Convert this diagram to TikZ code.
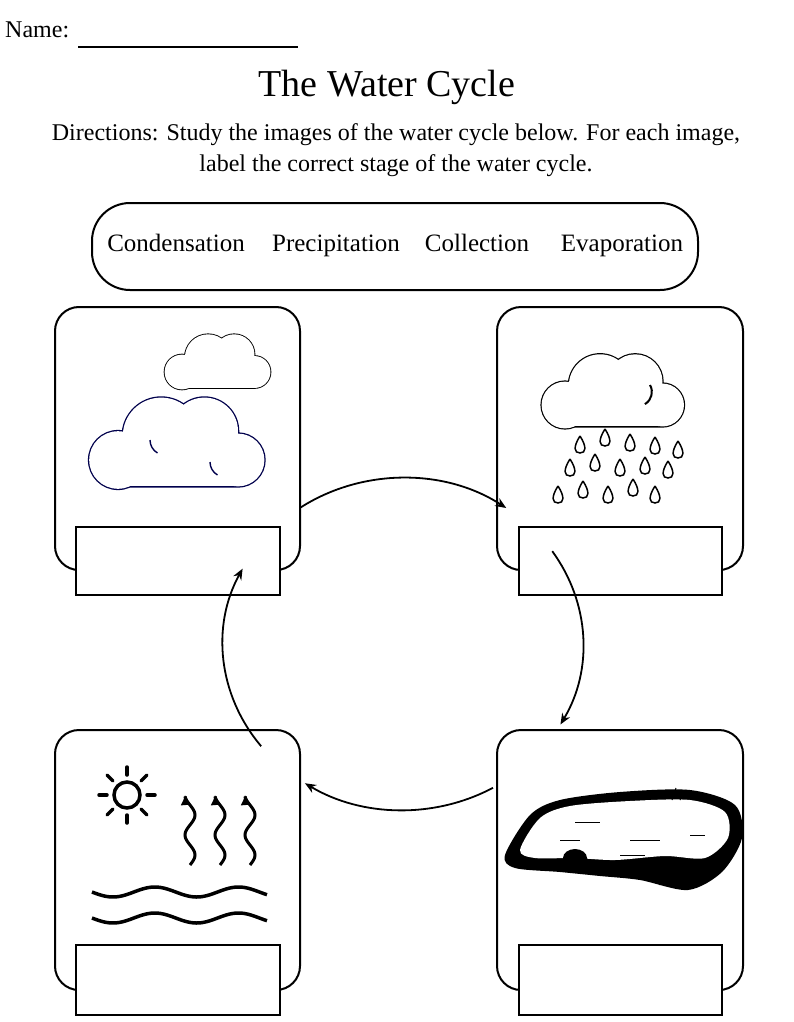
\documentclass[tikz,border=0pt]{standalone}
\usepackage{fontspec}
\setmainfont{Liberation Serif}
\usetikzlibrary{arrows.meta}
\tikzset{
 panel/.style={draw,line width=2pt,rounded corners=24pt},
 lbl/.style={draw,line width=2pt},
 cyc/.style={line width=1.8pt,-{Stealth[length=11pt,width=9pt]}},
 word/.style={anchor=base,font=\fontsize{25}{30}\selectfont},
 pics/cloud/.style={code={
  \draw[line width=#1] (0,0) circle (12) (18,-10) circle (16) (36,-12) circle (14) (50,0) circle (11) (0,-2) rectangle (50,11);
  \fill[white] (0,0) circle (12);
  \fill[white] (18,-10) circle (16);
  \fill[white] (36,-12) circle (14);
  \fill[white] (50,0) circle (11);
  \fill[white] (0,-2) rectangle (50,11);
 }},
 pics/drop/.style={code={
  \draw[line width=1.5pt] (0,-11) .. controls (-7,0) and (-6,6) .. (0,6) .. controls (6,6) and (7,0) .. (0,-11);
 }}
}
\begin{document}
\begin{tikzpicture}[x=1pt,y=-1pt]
\useasboundingbox (0,0) rectangle (794,1022);
% header
\node[anchor=base west,font=\fontsize{24}{28}\selectfont,inner sep=0pt] (name) at (5,38) {Name:};
\draw[line width=1.5pt] (78,47) -- (298,47);
\node[font=\fontsize{38}{44}\selectfont] (title) at (387,87) {The Water Cycle};
\node[font=\fontsize{24}{31}\selectfont,align=center] (dir) at (396,150) {Directions: Study the images of the water cycle below. For each image,\\label the correct stage of the water cycle.};
% word bank
\draw[line width=2pt,rounded corners=38pt] (92,203) rectangle (698,290);
\node[word] (w1) at (176,251) {Condensation};
\node[word] (w2) at (336,251) {Precipitation};
\node[word] (w3) at (477,251) {Collection};
\node[word] (w4) at (622,251) {Evaporation};
% panels
\draw[panel] (55,307) rectangle (300,570);
\draw[panel] (497,307) rectangle (743,570);
\draw[panel] (55,730) rectangle (300,990);
\draw[panel] (497,730) rectangle (743,990);
\draw[lbl,fill=white] (76,527) rectangle (280,595);
\draw[lbl,fill=white] (519,527) rectangle (722,595);
\draw[lbl,fill=white] (76,945) rectangle (280,1015);
\draw[lbl,fill=white] (519,945) rectangle (722,1015);
% cycle arrows
\coordinate (c) at (403,644);
\draw[cyc] (c) ++(124.6:180pt and 166pt) arc[start angle=124.6,end angle=55,x radius=180pt,y radius=166pt];
\draw[cyc] (c) ++(34:180pt and 166pt) arc[start angle=34,end angle=-29,x radius=180pt,y radius=166pt];
\draw[cyc] (c) ++(-60:180pt and 166pt) arc[start angle=-60,end angle=-123,x radius=180pt,y radius=166pt];
\draw[cyc] (c) ++(218:180pt and 166pt) arc[start angle=218,end angle=153,x radius=180pt,y radius=166pt];
% condensation clouds
\pic[scale=1.45] at (182,372) {cloud=1.8pt};
\pic[scale=2.4,draw=blue!30!black] at (118,460) {cloud=2.6pt};
\draw[blue!30!black,line width=1.4pt] (150,440) arc[start angle=180,end angle=120,radius=15] (210,462) arc[start angle=180,end angle=120,radius=15];
% precipitation
\pic[scale=1.95] at (565,405) {cloud=2.4pt};
\draw[line width=2pt] (650,385) arc[start angle=-30,end angle=60,radius=14];
\foreach \p in {(580,447),(605,440),(630,445),(655,448),(678,452),(570,470),(595,465),(620,470),(645,468),(668,472),(558,497),(583,492),(608,497),(633,490),(655,497)}
  \pic at \p {drop};
% evaporation
\draw[line width=3.5pt] (127,795) circle (13);
\foreach \a in {0,45,...,315} \draw[line width=3.5pt,line cap=round] (127,795) ++(\a:20pt) -- ++(\a:8pt);
\foreach \xx in {190,220,250}
  \draw[line width=3pt,-{Latex[length=10pt,width=11pt]}] plot[domain=0:70,samples=50] ({\xx+5*sin(\x*9)},{865-\x});
\draw[line width=3.5pt] plot[domain=0:175,samples=80] ({92+\x},{892+5*sin(\x*4.3)});
\draw[line width=3.5pt] plot[domain=0:175,samples=80] ({92+\x},{918+5*sin(\x*4.3)});
% collection puddle
\fill plot[smooth cycle] coordinates {(505,855)(530,815)(560,800)(620,792)(690,790)(735,805)(742,838)(722,872)(688,890)(640,880)(600,876)(560,872)(515,868)};
\fill[white] plot[smooth cycle] coordinates {(520,850)(540,818)(570,806)(630,801)(690,800)(725,812)(728,838)(705,858)(665,856)(615,860)(575,858)(535,858)};
\fill (575,858) ellipse (12 and 9);
\draw[line width=0.8pt] (575,822)--(600,822) (630,840)--(660,840) (620,855)--(645,855) (690,835)--(705,835) (560,840)--(580,840);
\draw[line width=1pt] (660,885) -- (657,870) (668,885) -- (672,872) (672,800)--(676,788) (680,800)--(686,790);
\end{tikzpicture}
\end{document}
